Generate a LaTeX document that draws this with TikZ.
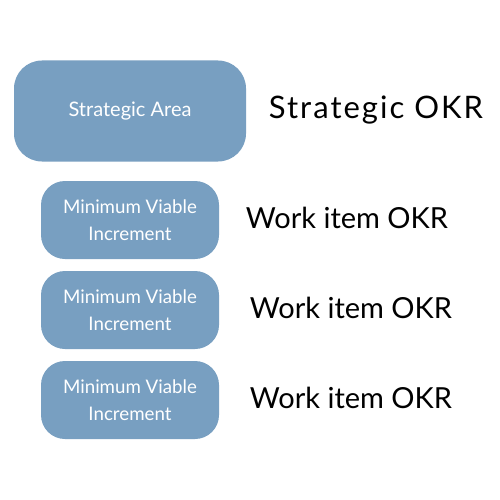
\documentclass[tikz,border=0pt]{standalone}
\usepackage{fontspec}
\setmainfont{Lato}
\definecolor{boxblue}{RGB}{120,159,193}
\tikzset{
  bigbox/.style={fill=boxblue, draw=none, rounded corners=28pt, minimum width=232pt, minimum height=101pt, text=white, font=\fontsize{20}{22}\selectfont},
  smallbox/.style={fill=boxblue, draw=none, rounded corners=24pt, minimum width=178pt, minimum height=78pt, text=white, align=center, font=\fontsize{18.7}{27.5}\selectfont},
  okr/.style={text=black, font=\fontsize{29}{32}\selectfont},
  bigokr/.style={text=black, font=\fontsize{31}{34}\selectfont\addfontfeatures{LetterSpace=6.5}}
}
\begin{document}
\begin{tikzpicture}[x=1pt,y=-1pt]
\useasboundingbox (0,0) rectangle (500,500);
\fill[white] (0,0) rectangle (500,500);
\node[bigbox] (sa) at (130,111) {Strategic Area};
\node[smallbox] (m1) at (130,220) {Minimum Viable\\Increment};
\node[smallbox] (m2) at (130,310) {Minimum Viable\\Increment};
\node[smallbox] (m3) at (130,400) {Minimum Viable\\Increment};
\node[bigokr] (so) at (376,110) {Strategic OKR};
\node[okr] (w1) at (347,218) {Work item OKR};
\node[okr] (w2) at (351,308) {Work item OKR};
\node[okr] (w3) at (351,398) {Work item OKR};
\end{tikzpicture}
\end{document}
